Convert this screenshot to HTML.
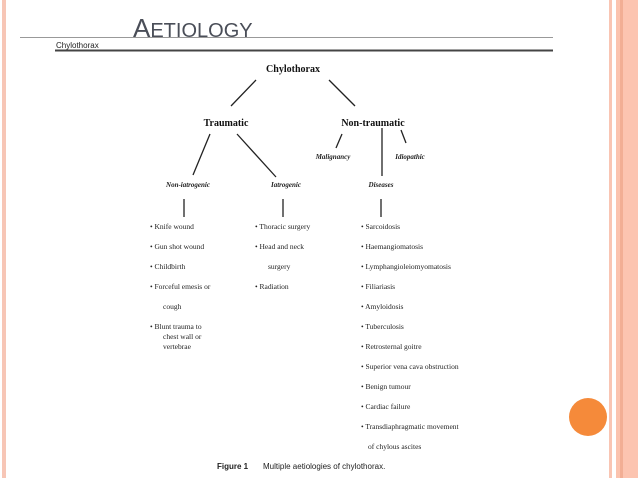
<!DOCTYPE html>
<html><head><style>
html,body{margin:0;padding:0;width:638px;height:478px;overflow:hidden;background:#fff}
</style></head><body>
<svg width="638" height="478" xmlns="http://www.w3.org/2000/svg" font-family="Liberation Serif, serif">
<rect x="2" y="0" width="4" height="478" fill="#f7c6b6"/>
<rect x="609" y="0" width="3" height="478" fill="#f9c5b3"/>
<rect x="616" y="0" width="4" height="478" fill="#fbc3ae"/>
<rect x="620" y="0" width="3" height="478" fill="#f2ae94"/>
<rect x="623" y="0" width="15" height="478" fill="#fcc4b0"/>
<text x="133" y="37" font-family="Liberation Sans, sans-serif" font-size="26" fill="#4a4e58">A<tspan font-size="20">ETIOLOGY</tspan></text>
<line x1="20" y1="37.5" x2="553" y2="37.5" stroke="#999" stroke-width="1"/>
<text x="56" y="48" font-family="Liberation Sans, sans-serif" font-size="8" fill="#222">Chylothorax</text>
<line x1="55" y1="50.5" x2="553" y2="50.5" stroke="#444" stroke-width="2"/>
<g font-weight="bold" font-size="10" text-anchor="middle" fill="#111">
<text x="293" y="72">Chylothorax</text>
<text x="226" y="126">Traumatic</text>
<text x="373" y="126">Non-traumatic</text>
</g>
<g font-style="italic" font-weight="bold" font-size="7" text-anchor="middle" fill="#222">
<text x="333" y="159">Malignancy</text>
<text x="410" y="159">Idiopathic</text>
<text x="188" y="187">Non-iatrogenic</text>
<text x="286" y="187">Iatrogenic</text>
<text x="381" y="187">Diseases</text>
</g>
<g stroke="#222" stroke-width="1.3">
<line x1="256" y1="80" x2="231" y2="106"/>
<line x1="329" y1="80" x2="355" y2="106"/>
<line x1="210" y1="134" x2="193" y2="175"/>
<line x1="237" y1="134" x2="276" y2="177"/>
<line x1="342" y1="134" x2="336" y2="148"/>
<line x1="382" y1="128" x2="382" y2="176"/>
<line x1="401" y1="130" x2="406" y2="143"/>
<line x1="184" y1="199" x2="184" y2="217"/>
<line x1="283" y1="199" x2="283" y2="217"/>
<line x1="381" y1="199" x2="381" y2="217"/>
</g>
<g font-size="7.5" fill="#222">
<text x="150" y="229">• Knife wound</text>
<text x="150" y="249">• Gun shot wound</text>
<text x="150" y="269">• Childbirth</text>
<text x="150" y="289">• Forceful emesis or</text>
<text x="163" y="309">cough</text>
<text x="150" y="329">• Blunt trauma to</text>
<text x="163" y="339">chest wall or</text>
<text x="163" y="349">vertebrae</text>
<text x="255" y="229">• Thoracic surgery</text>
<text x="255" y="249">• Head and neck</text>
<text x="268" y="269">surgery</text>
<text x="255" y="289">• Radiation</text>
<text x="361" y="229">• Sarcoidosis</text>
<text x="361" y="249">• Haemangiomatosis</text>
<text x="361" y="269">• Lymphangioleiomyomatosis</text>
<text x="361" y="289">• Filiariasis</text>
<text x="361" y="309">• Amyloidosis</text>
<text x="361" y="329">• Tuberculosis</text>
<text x="361" y="349">• Retrosternal goitre</text>
<text x="361" y="369">• Superior vena cava obstruction</text>
<text x="361" y="389">• Benign tumour</text>
<text x="361" y="409">• Cardiac failure</text>
<text x="361" y="429">• Transdiaphragmatic movement</text>
<text x="368" y="449">of chylous ascites</text>
</g>
<text x="217" y="469" font-family="Liberation Sans, sans-serif" font-size="8" font-weight="bold" fill="#222">Figure 1</text>
<text x="263" y="469" font-family="Liberation Sans, sans-serif" font-size="8" fill="#222">Multiple aetiologies of chylothorax.</text>
<circle cx="588" cy="417" r="19" fill="#f58a3a"/>
</svg>
</body></html>
